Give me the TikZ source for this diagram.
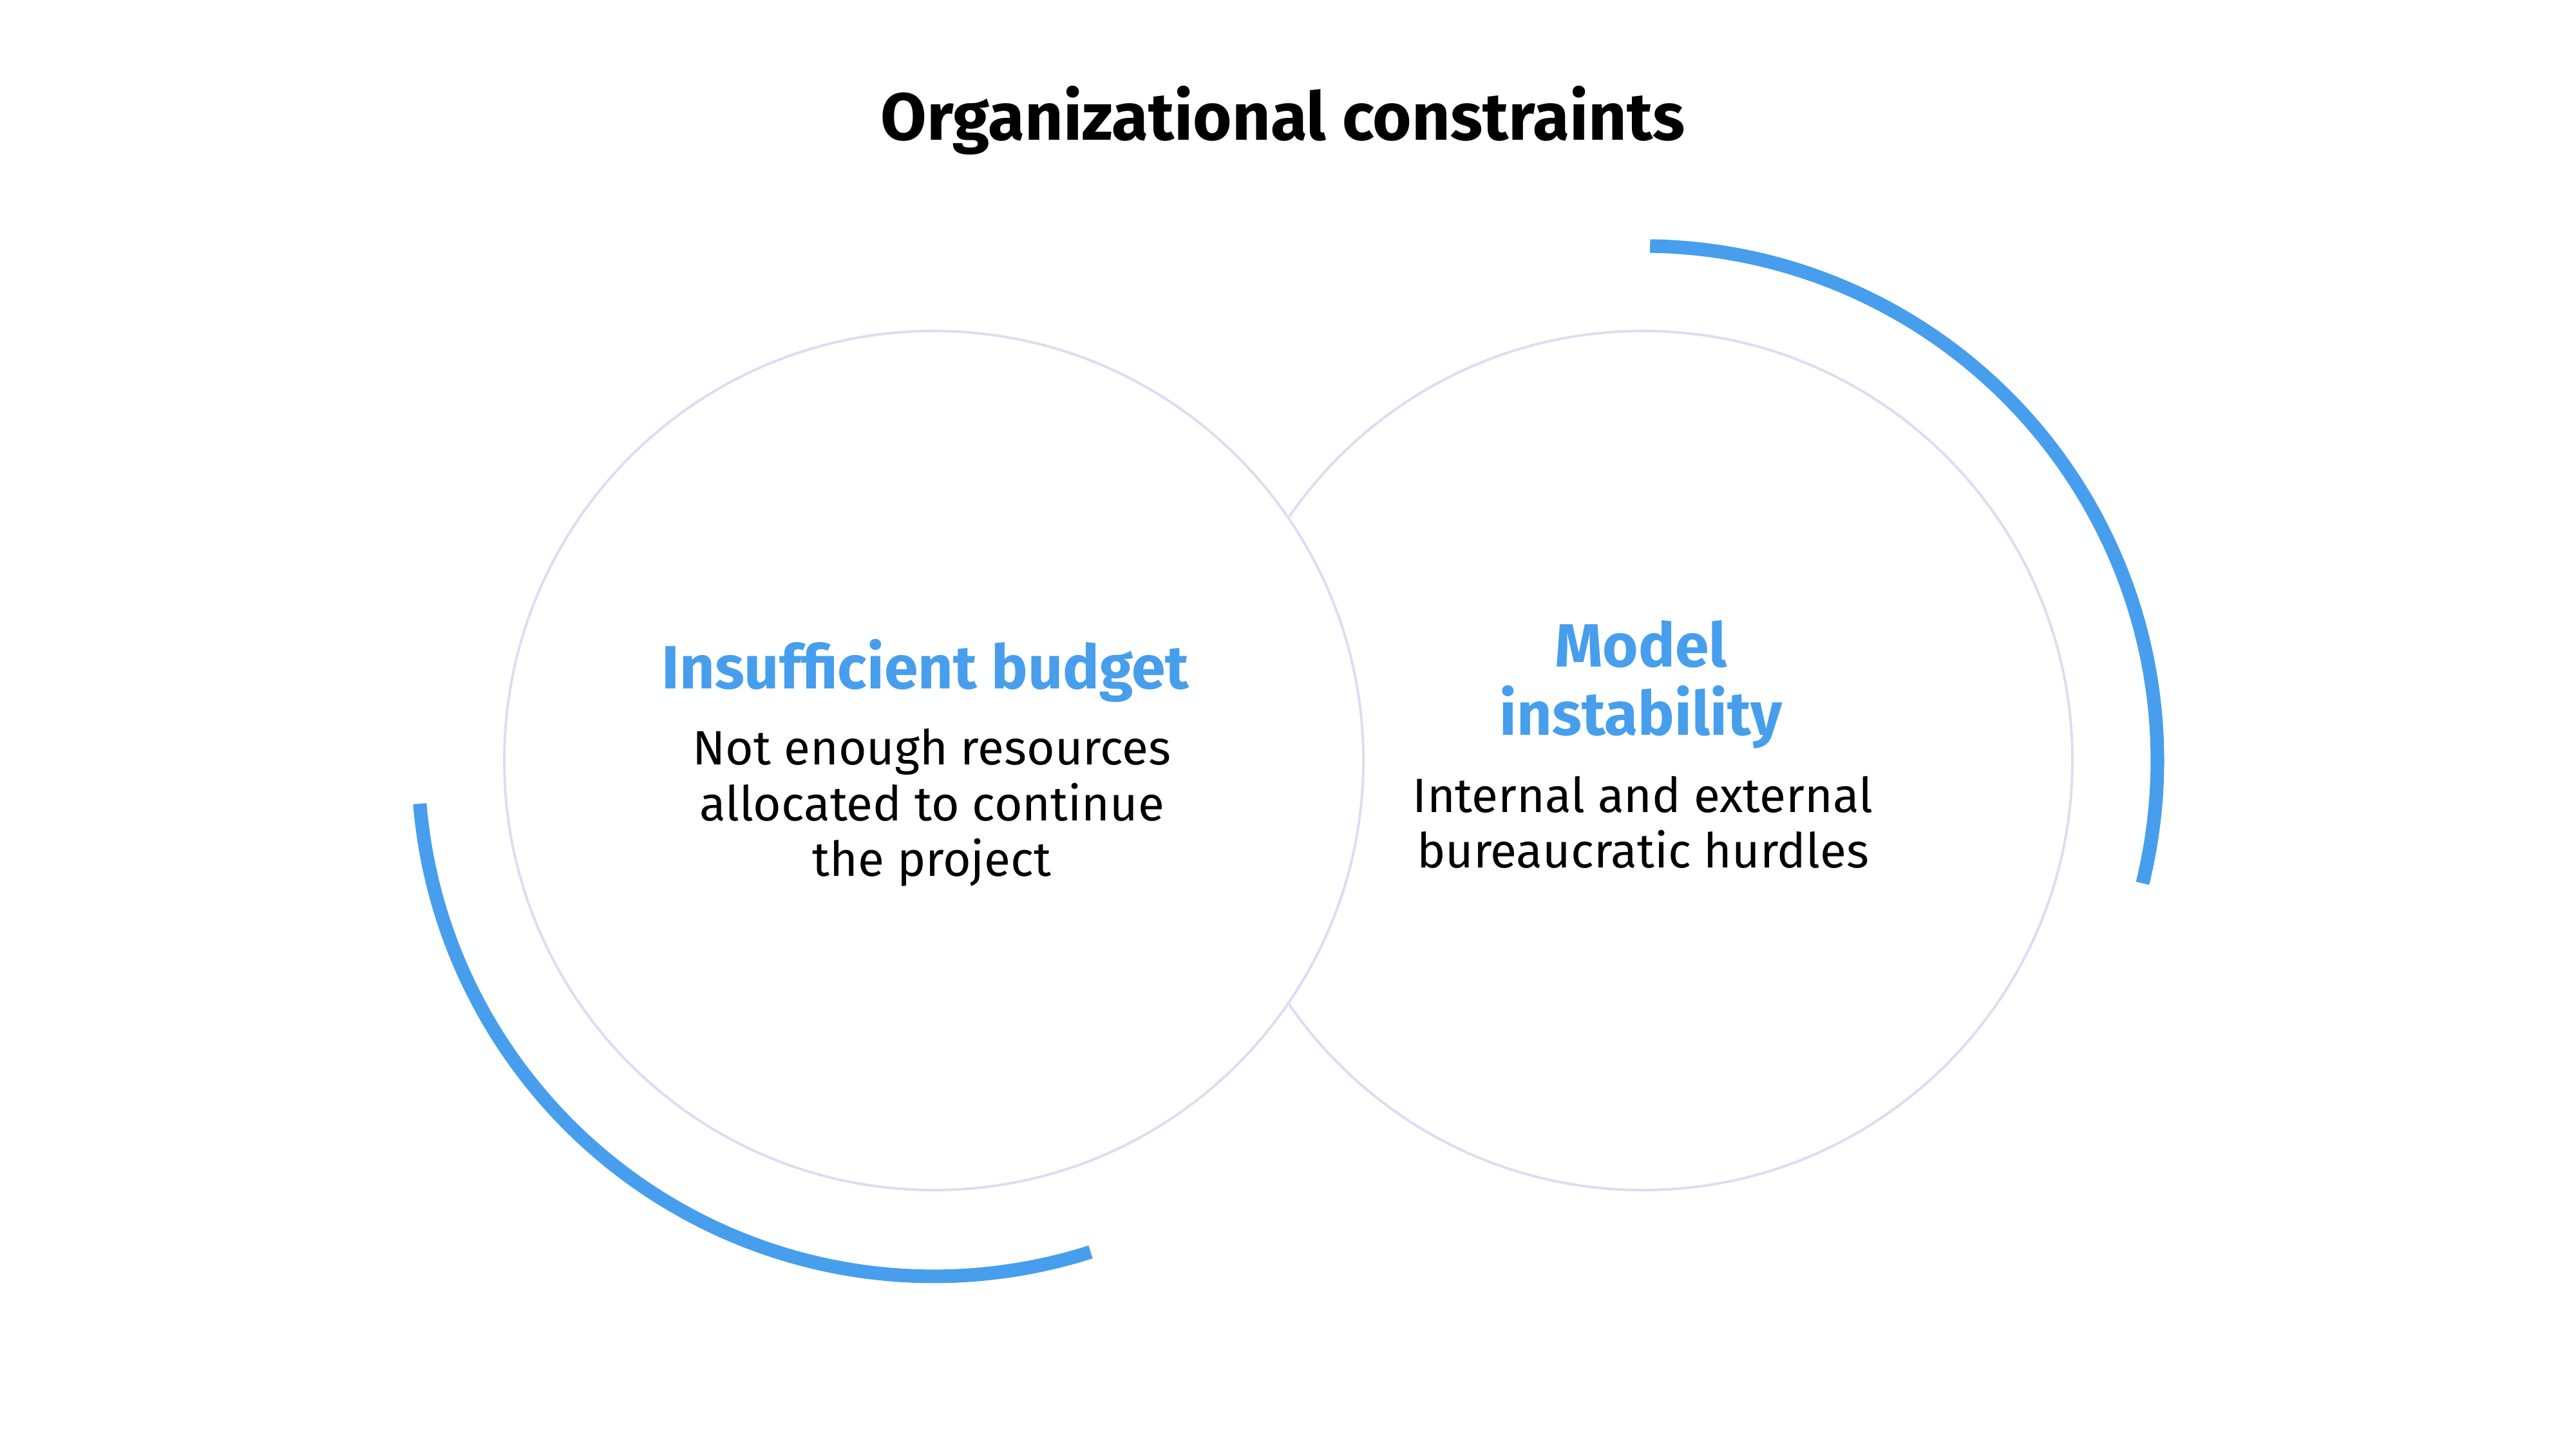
\documentclass[tikz,border=0pt]{standalone}
\usepackage{fontspec}
\setmainfont{Fira Sans}
\usetikzlibrary{positioning}
\definecolor{arcblue}{HTML}{479EEC}
\definecolor{ringgray}{HTML}{DCDCF2}

\begin{document}
\begin{tikzpicture}[x=1cm, y=1cm]
        \tikzstyle{ring}=[circle, draw=ringgray, line width=1.1pt, fill=white, minimum size=13.34cm, inner sep=0pt]
        \tikzstyle{band}=[draw=arcblue, line width=6pt, line cap=butt]
        \tikzstyle{heading}=[text=arcblue, font=\bfseries\fontsize{27}{30.3}\selectfont, align=center, inner sep=0pt, anchor=base]
        \tikzstyle{body}=[font=\fontsize{21.3}{24.7}\selectfont, align=center, inner sep=0pt, anchor=base]

        \useasboundingbox (0,0) rectangle (40,22.5);

            % Circles
            \node[ring] (model) at (25.51,10.69) {};
            \node[ring] (budget) at (14.50,10.69) {};

            % Arcs
            \draw[band] ([shift={(184.8:8.01)}]budget.center) arc[start angle=184.8, end angle=287.7, radius=8.01];
            \draw[band] ([shift={(89.2:7.99)}]model.center) arc[start angle=89.2, end angle=-13.8, radius=7.99];

            % Texts (base = last line)
            \node[font=\bfseries\fontsize{29.5}{32}\selectfont, anchor=base, inner sep=0pt] (title) at (19.92,20.32) {Organizational constraints};

            \node[heading] (budgettitle) at (14.37,11.80) {Insufficient budget};
            \node[body] (budgettext) at (14.47,8.89) {Not enough resources\\ allocated to continue\\ the project};

            \node[heading] (modeltitle) at (25.48,11.08) {Model\\ instability};
            \node[body] (modeltext) at (25.51,9.02) {Internal and external\\ bureaucratic hurdles};
\end{tikzpicture}
\end{document}
